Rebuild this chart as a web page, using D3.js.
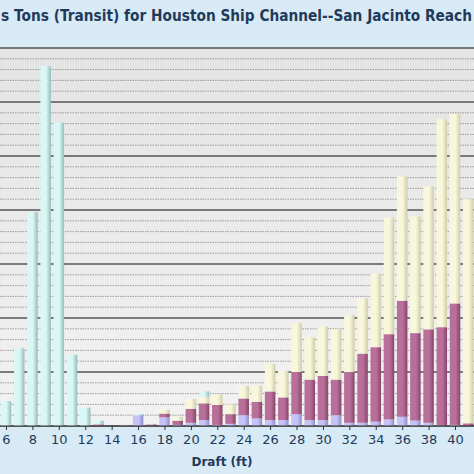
<!DOCTYPE html>
<html><head><meta charset="utf-8">
<script src="https://cdn.jsdelivr.net/npm/d3@7"></script>
<style>body{margin:0;background:#d8eaf6}svg{display:block}</style>
</head><body><svg id="chart" width="474" height="474"></svg>
<script>
// drafts (ft) and stacked series, in gridline units (1 unit = one dashed row)
var drafts   = [5,6,7,8,9,10,11,12,13,14,15,16,17,18,19,20,21,22,23,24,25,26,27,28,29,30,31,32,33,34,35,36,37,38,39,40,41];
var lavender = [0,0,0,0,0,0,0,0,0,0,0,1.0,0,0.8,0.1,0.3,0.55,0.1,0.2,1.0,0.7,0.55,0.55,1.1,0.55,0.55,1.0,0.3,0.3,0.4,0.6,0.85,0.5,0.3,0.05,0.1,0];
var maroon   = [0,0,0,0,0,0,0,0,0.15,0,0.05,0,0.15,0.35,0.4,1.3,1.55,1.85,0.9,1.55,1.55,2.65,2.1,3.9,3.75,4.1,3.3,4.7,6.4,6.9,7.9,10.75,8.1,8.65,9.1,11.25,0.25];
var yellow   = [0,0,0,0,0,0,0,0,0,0,0,0,0,0.35,0.35,0.9,0.6,0.95,0.9,1.15,1.5,2.55,2.45,4.55,3.9,4.55,4.65,5.3,5.1,6.8,10.8,11.5,10.8,13.25,19.25,17.55,20.75];
var cyan     = [2.4,2.3,7.2,19.8,33.3,28.1,6.6,1.7,0.35,0,0.05,0.1,0.05,0,0,0,0.5,0,0,0,0,0,0,0,0,0,0,0,0,0,0,0,0,0,0,0,0];
var xTicks   = [6,8,10,12,14,16,18,20,22,24,26,28,30,32,34,36,38,40];
var titleText = "s Tons (Transit) for Houston Ship Channel--San Jacinto Reach";

var svg = d3.select('#chart');
var plotTop = 48, base = 426;
var x = d3.scaleLinear().domain([6, 40]).range([6, 455]);
var y = d3.scaleLinear().domain([0, 35]).range([base, plotTop]);

// plot background
var defs = svg.append('defs');
var bg = defs.append('linearGradient').attr('id', 'bg').attr('x1', 0).attr('y1', 0).attr('x2', 0).attr('y2', 1);
bg.append('stop').attr('offset', 0).attr('stop-color', '#e4e4e4');
bg.append('stop').attr('offset', 1).attr('stop-color', '#f2f2f2');
svg.append('rect').attr('x', 0).attr('y', plotTop).attr('width', 474).attr('height', base - plotTop).attr('fill', 'url(#bg)');

// grid
d3.range(0, 36).forEach(function(v) {
    var major = v % 5 == 0;
    svg.append('line').attr('x1', 0).attr('x2', 474).attr('y1', y(v)).attr('y2', y(v))
        .attr('stroke', major ? '#555' : '#888').attr('stroke-width', major ? 1.4 : 0.8)
        .attr('stroke-dasharray', major ? null : '1.5,1');
});

// cylinder-ish shading per series
var series = [
    {name: 'lav', vals: lavender, c1: '#c6c4f6', c2: '#8f8cd0'},
    {name: 'mar', vals: maroon, c1: '#b8709a', c2: '#8a4468'},
    {name: 'yel', vals: yellow, c1: '#f8f7dc', c2: '#cfcca6'},
    {name: 'cya', vals: cyan, c1: '#d8f7f5', c2: '#93bcbb'}
];
series.forEach(function(s) {
    var g = defs.append('linearGradient').attr('id', 'g' + s.name);
    g.append('stop').attr('offset', 0).attr('stop-color', s.c1);
    g.append('stop').attr('offset', 0.55).attr('stop-color', s.c1);
    g.append('stop').attr('offset', 1).attr('stop-color', s.c2);
});

var cum = drafts.map(function() { return 0; });
var bw = 10.5;
series.forEach(function(s) {
    var rows = drafts.map(function(d, i) {
        var r = {d: d, y0: cum[i], y1: cum[i] + s.vals[i]};
        cum[i] = r.y1;
        return r;
    }).filter(function(r) { return r.y1 > r.y0; });
    svg.append('g').selectAll('rect').data(rows).enter().append('rect')
        .attr('x', function(r) { return x(r.d) - bw / 2; })
        .attr('width', bw)
        .attr('y', function(r) { return y(r.y1); })
        .attr('height', function(r) { return y(r.y0) - y(r.y1); })
        .attr('fill', 'url(#g' + s.name + ')');
});

svg.append('line').attr('x1', 0).attr('x2', 474).attr('y1', base).attr('y2', base).attr('stroke', '#333').attr('stroke-width', 1.2);

// x axis
var axis = svg.append('g').attr('transform', 'translate(0,' + base + ')')
    .call(d3.axisBottom(x).tickValues(xTicks).tickSize(4).tickPadding(5));
axis.select('.domain').remove();
axis.selectAll('line').attr('stroke', '#333');
axis.selectAll('text').attr('font-family', 'DejaVu Sans').attr('font-size', 13).attr('fill', '#1f3a5a');

svg.append('text').attr('x', 222).attr('y', 466).attr('text-anchor', 'middle')
    .attr('font-family', 'DejaVu Sans').attr('font-weight', 'bold').attr('font-size', 12).attr('fill', '#1f3a5a')
    .text('Draft (ft)');

svg.append('text').attr('x', 1).attr('y', 21)
    .attr('font-family', 'DejaVu Sans').attr('font-weight', 'bold').attr('font-size', 15).attr('fill', '#1f3a5a')
    .attr('textLength', 471).attr('lengthAdjust', 'spacingAndGlyphs')
    .text(titleText);
</script></body></html>
